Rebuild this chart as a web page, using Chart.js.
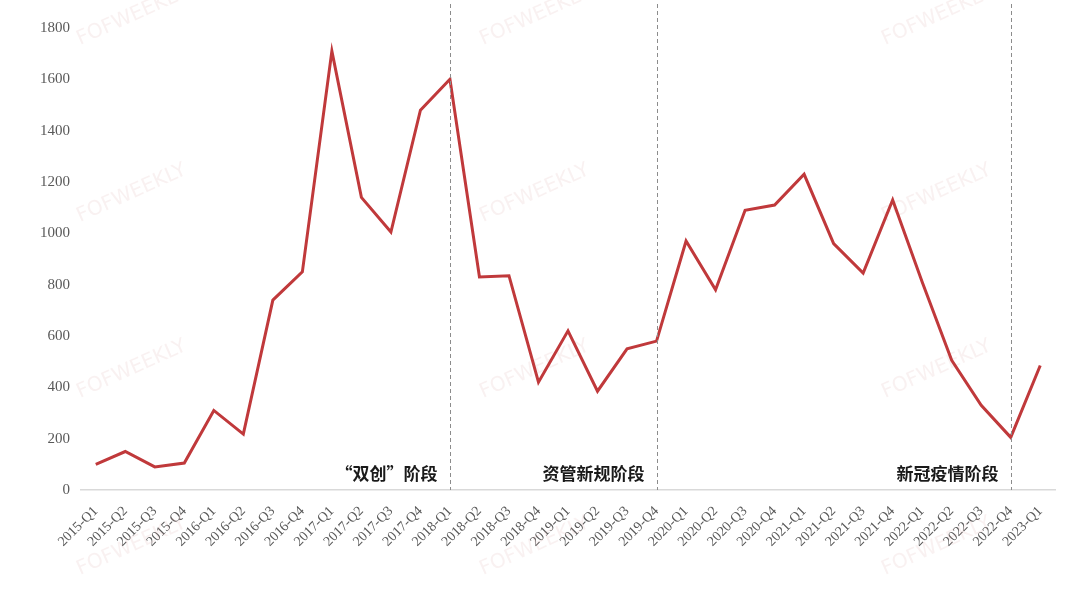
<!DOCTYPE html>
<html>
<head>
<meta charset="utf-8">
<script src="https://cdn.jsdelivr.net/npm/chart.js@4"></script>
<style>
  html, body { margin: 0; padding: 0; background: #fff; }
  #wrap { width: 1080px; height: 607px; position: relative; }
</style>
</head>
<body>
<div id="wrap"><canvas id="fund-chart"></canvas></div>
<script>
const quarters = ["2015-Q1","2015-Q2","2015-Q3","2015-Q4","2016-Q1","2016-Q2","2016-Q3","2016-Q4",
  "2017-Q1","2017-Q2","2017-Q3","2017-Q4","2018-Q1","2018-Q2","2018-Q3","2018-Q4",
  "2019-Q1","2019-Q2","2019-Q3","2019-Q4","2020-Q1","2020-Q2","2020-Q3","2020-Q4",
  "2021-Q1","2021-Q2","2021-Q3","2021-Q4","2022-Q1","2022-Q2","2022-Q3","2022-Q4","2023-Q1"];
const counts = [100, 150, 90, 105, 310, 218, 740, 850,
  1710, 1140, 1005, 1480, 1600, 830, 835, 420,
  620, 385, 550, 580, 970, 780, 1090, 1110,
  1230, 960, 845, 1130, 810, 505, 330, 205, 485];
const phaseEnds = ["2018-Q1", "2019-Q4", "2022-Q4"];
const phaseNames = ["“双创”阶段", "资管新规阶段", "新冠疫情阶段"];
const yTicks = [0, 200, 400, 600, 800, 1000, 1200, 1400, 1600, 1800];

const chart_el = document.getElementById("fund-chart");

// faint watermark text behind the chart
const watermark = {
  id: "watermark",
  beforeDatasetsDraw(chart) {
    const ctx = chart.ctx;
    ctx.save();
    ctx.font = "20px 'DejaVu Sans', sans-serif";
    ctx.fillStyle = "rgba(215, 165, 165, 0.16)";
    [80, 483, 885].forEach(x => {
      [45, 222, 398, 575].forEach(y => {
        ctx.save();
        ctx.translate(x, y);
        ctx.rotate(-0.42);
        ctx.fillText("FOFWEEKLY", 0, 0);
        ctx.restore();
      });
    });
    ctx.restore();
  }
};

// dashed separators and phase names
const phases = {
  id: "phases",
  afterDatasetsDraw(chart) {
    const ctx = chart.ctx;
    const x = chart.scales.x;
    const y = chart.scales.y;
    ctx.save();
    ctx.strokeStyle = "#8c8c8c";
    ctx.lineWidth = 1;
    ctx.setLineDash([4, 3]);
    phaseEnds.forEach((q, i) => {
      const px = Math.round(x.getPixelForValue(quarters.indexOf(q))) + 0.5;
      ctx.beginPath();
      ctx.moveTo(px, 4);
      ctx.lineTo(px, y.getPixelForValue(0));
      ctx.stroke();
      ctx.fillStyle = "#1a1a1a";
      ctx.font = "bold 17px 'Noto Sans CJK SC', sans-serif";
      ctx.textAlign = "right";
      ctx.textBaseline = "middle";
      ctx.fillText(phaseNames[i], px - 13, y.getPixelForValue(0) - 16);
    });
    ctx.restore();
  }
};

new Chart(chart_el, {
  type: 'line',
  data: {
    labels: quarters,
    datasets: [{
      data: counts,
      borderColor: "#c0393b",
      borderWidth: 3,
      pointRadius: 0,
      tension: 0,
      fill: false
    }]
  },
  options: {
    responsive: true,
    maintainAspectRatio: false,
    animation: false,
    layout: { padding: { top: 28, right: 25, left: 0, bottom: 0 } },
    plugins: {
      legend: { display: false },
      tooltip: { enabled: false }
    },
    scales: {
      x: {
        offset: true,
        grid: { display: false, drawTicks: false },
        border: { color: "#d9d9d9", width: 1.5 },
        ticks: {
          autoSkip: false,
          minRotation: 45,
          maxRotation: 45,
          padding: 13,
          color: "#595959",
          font: { family: "'Liberation Serif', serif", size: 14 }
        },
        afterFit(scale) { scale.height = 117; }
      },
      y: {
        min: 0,
        max: 1800,
        afterBuildTicks(scale) { scale.ticks = yTicks.map(v => ({ value: v })); },
        grid: { display: false, drawTicks: false },
        border: { display: false },
        ticks: {
          padding: 11,
          color: "#595959",
          font: { family: "'Liberation Serif', serif", size: 15 },
          callback: v => String(v)
        },
        afterFit(scale) { scale.width = 81; }
      }
    }
  },
  plugins: [watermark, phases]
});
</script>
</body>
</html>
